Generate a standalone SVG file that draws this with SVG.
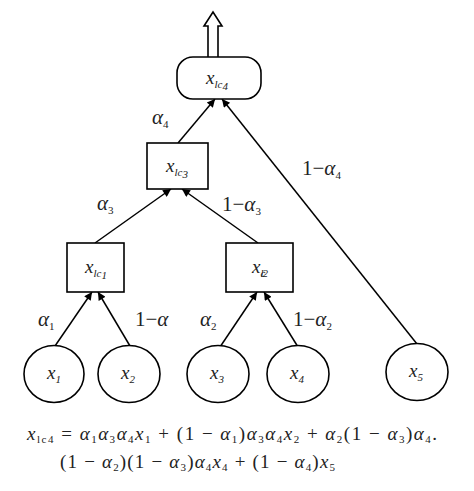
<svg xmlns="http://www.w3.org/2000/svg" width="474" height="491" viewBox="0 0 474 491">
<style>
text{font-family:'Liberation Serif','Times New Roman','DejaVu Serif',serif;fill:#222}
.n{fill:#fff;stroke:#000;stroke-width:1.6}
.c{stroke:#000;stroke-width:1.5;fill:none}
.t{font-style:italic;font-size:19px}
.l{font-size:21px}
.g{font-style:italic}
.s{font-size:11px}
.f{font-size:19px}
</style>
<defs>
<marker id="ah" viewBox="0 0 10 10" refX="10" refY="5" markerWidth="10" markerHeight="8" markerUnits="userSpaceOnUse" orient="auto">
<path d="M0,0 L10,5 L0,10 z" fill="#000"/>
</marker>
</defs>
<rect width="474" height="491" fill="#fff"/>
<g id="connectors">
<line class="c" x1="55" y1="346" x2="92" y2="292" marker-end="url(#ah)"/>
<line class="c" x1="130" y1="346" x2="98" y2="292" marker-end="url(#ah)"/>
<line class="c" x1="220" y1="347" x2="257" y2="292" marker-end="url(#ah)"/>
<line class="c" x1="298" y1="347" x2="264" y2="292" marker-end="url(#ah)"/>
<line class="c" x1="95" y1="243" x2="171" y2="189" marker-end="url(#ah)"/>
<line class="c" x1="258" y1="243" x2="182" y2="189" marker-end="url(#ah)"/>
<line class="c" x1="178" y1="143" x2="215" y2="99" marker-end="url(#ah)"/>
<line class="c" x1="417" y1="344" x2="222" y2="99" marker-end="url(#ah)"/>
</g>
<g id="output">
<path class="n" d="M208,57 L208,26 L204,26 L213,12 L222,26 L218,26 L218,57"/>
</g>
<g id="lc4">
<rect class="n" x="177" y="57" width="84" height="42" rx="16"/>
<text class="t" x="206" y="84">x<tspan class="s" dy="4">lc</tspan><tspan class="s" font-size="8" dy="2">4</tspan></text>
</g>
<g id="lc3">
<rect class="n" x="147" y="143" width="61" height="46"/>
<text class="t" x="166" y="172">x<tspan class="s" dy="4">lc</tspan><tspan class="s" font-size="8" dy="2">3</tspan></text>
</g>
<g id="lc1">
<rect class="n" x="67" y="243" width="57" height="49"/>
<text class="t" x="85" y="273">x<tspan class="s" dy="4">lc</tspan><tspan class="s" font-size="8" dy="2">1</tspan></text>
</g>
<g id="lc2">
<rect class="n" x="226" y="243" width="67" height="49"/>
<text class="t" x="252" y="273">x<tspan class="s" dy="4" letter-spacing="-3">lc</tspan><tspan class="s" font-size="8" dy="0">2</tspan></text>
</g>
<g id="x1">
<ellipse class="n" cx="54" cy="374" rx="30" ry="28.5"/>
<text class="t" x="47" y="379">x<tspan class="s" dy="4">1</tspan></text>
</g>
<g id="x2">
<ellipse class="n" cx="129" cy="374" rx="31" ry="28.5"/>
<text class="t" x="121" y="379">x<tspan class="s" dy="4">2</tspan></text>
</g>
<g id="x3">
<ellipse class="n" cx="218" cy="374" rx="31" ry="28.5"/>
<text class="t" x="210" y="379">x<tspan class="s" dy="4">3</tspan></text>
</g>
<g id="x4">
<ellipse class="n" cx="298" cy="374" rx="31" ry="28.5"/>
<text class="t" x="290" y="379">x<tspan class="s" dy="4">4</tspan></text>
</g>
<g id="x5">
<ellipse class="n" cx="417" cy="372" rx="31" ry="28.5"/>
<text class="t" x="409" y="377">x<tspan class="s" dy="4">5</tspan></text>
</g>
<g id="labels">
<text class="l" x="152" y="124"><tspan class="g">α</tspan><tspan class="s" dy="4">4</tspan></text>
<text class="l" x="97" y="210"><tspan class="g">α</tspan><tspan class="s" dy="4">3</tspan></text>
<text class="l" x="222" y="211">1−<tspan class="g">α</tspan><tspan class="s" dy="4">3</tspan></text>
<text class="l" x="302" y="175">1−<tspan class="g">α</tspan><tspan class="s" dy="4">4</tspan></text>
<text class="l" x="38" y="326"><tspan class="g">α</tspan><tspan class="s" dy="4">1</tspan></text>
<text class="l" x="135" y="326">1−<tspan class="g">α</tspan></text>
<text class="l" x="200" y="326"><tspan class="g">α</tspan><tspan class="s" dy="4">2</tspan></text>
<text class="l" x="293" y="326">1−<tspan class="g">α</tspan><tspan class="s" dy="4">2</tspan></text>
</g>
<g id="formula">
<text class="f" x="27" y="440" textLength="410" lengthAdjust="spacing"><tspan class="g">x</tspan><tspan class="s" font-size="8" dy="3">lc4</tspan><tspan dy="-3"> = </tspan><tspan class="g">α</tspan><tspan class="s" dy="3">1</tspan><tspan class="g" dy="-3">α</tspan><tspan class="s" dy="3">3</tspan><tspan class="g" dy="-3">α</tspan><tspan class="s" dy="3">4</tspan><tspan class="g" dy="-3">x</tspan><tspan class="s" dy="3">1</tspan><tspan dy="-3"> + (1 − </tspan><tspan class="g">α</tspan><tspan class="s" dy="3">1</tspan><tspan dy="-3">)</tspan><tspan class="g">α</tspan><tspan class="s" dy="3">3</tspan><tspan class="g" dy="-3">α</tspan><tspan class="s" dy="3">4</tspan><tspan class="g" dy="-3">x</tspan><tspan class="s" dy="3">2</tspan><tspan dy="-3"> + </tspan><tspan class="g">α</tspan><tspan class="s" dy="3">2</tspan><tspan dy="-3">(1 − </tspan><tspan class="g">α</tspan><tspan class="s" dy="3">3</tspan><tspan dy="-3">)</tspan><tspan class="g">α</tspan><tspan class="s" dy="3">4</tspan><tspan dy="-3">.</tspan></text>
<text class="f" x="60" y="468" textLength="275" lengthAdjust="spacing">(1 − <tspan class="g">α</tspan><tspan class="s" dy="3">2</tspan><tspan dy="-3">)(1 − </tspan><tspan class="g">α</tspan><tspan class="s" dy="3">3</tspan><tspan dy="-3">)</tspan><tspan class="g">α</tspan><tspan class="s" dy="3">4</tspan><tspan class="g" dy="-3">x</tspan><tspan class="s" dy="3">4</tspan><tspan dy="-3"> + (1 − </tspan><tspan class="g">α</tspan><tspan class="s" dy="3">4</tspan><tspan dy="-3">)</tspan><tspan class="g">x</tspan><tspan class="s" dy="3">5</tspan></text>
</g>
</svg>
